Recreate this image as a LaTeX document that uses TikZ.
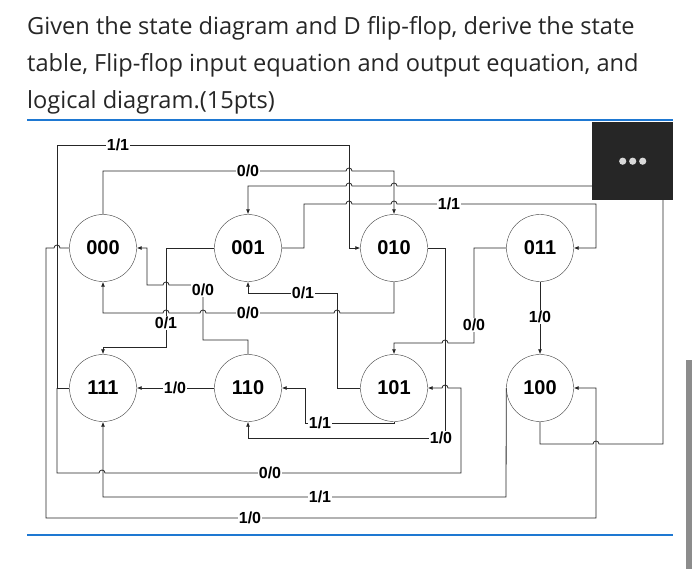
\documentclass[tikz,border=0pt]{standalone}
\usepackage{fontspec}
\setmainfont{Liberation Sans}
\newfontfamily\hdfont{Open Sans}
\usetikzlibrary{arrows.meta}
\definecolor{rule}{RGB}{30,120,210}
\tikzset{
  state/.style={draw=black!75,circle,minimum size=67pt,inner sep=0pt,font=\fontsize{20}{20}\selectfont\bfseries},
  lbl/.style={fill=white,inner sep=1pt,font=\fontsize{16}{16}\selectfont\bfseries},
  wire/.style={line width=0.8pt,black!85},
  arr/.style={wire,-{Latex[length=5pt,width=4pt]}},
  hdr/.style={anchor=west,inner sep=0pt,font=\hdfont\fontsize{23.6}{23.6}\selectfont,text=black!85}
}
\begin{document}
\begin{tikzpicture}[x=1pt,y=-1pt]
\useasboundingbox (0,0) rectangle (700,569);
% header
\node[hdr] (h1) at (27,28) {Given the state diagram and D flip-flop, derive the state};
\node[hdr] (h2) at (27,65) {table, Flip-flop input equation and output equation, and};
\node[hdr] (h3) at (27,102) {logical diagram.(15pts)};
\draw[line width=1.2pt,rule] (27,120) -- (673,120);
\draw[line width=1.2pt,rule] (27,535) -- (673,535);

% states
\node[state] (s000) at (103,248) {000};
\node[state] (s001) at (248,248) {001};
\node[state] (s010) at (394,248) {010};
\node[state] (s011) at (540,248) {011};
\node[state] (s111) at (103,388) {111};
\node[state] (s110) at (248,388) {110};
\node[state] (s101) at (394,388) {101};
\node[state] (s100) at (540,388) {100};

% 111 -> 010 and 111 -> 101
\draw[wire] (s111.west) -- (57,388);
\draw[arr] (57,388) -- (57,145) -- (349,145) -- (349,248) -- (s010.west);
\draw[arr] (57,388) -- (57,473) -- (99,473) arc[start angle=180,end angle=0,radius=3pt]
  -- (461,473) -- (461,388) -- (448,388) arc[start angle=0,end angle=180,radius=3pt] -- (s101.east);
% 000 -> 100
\draw[arr] (s000.west) -- (60,248) arc[start angle=0,end angle=180,radius=3pt] -- (46,248)
  -- (46,518) -- (596,518) -- (596,388) -- (s100.east);
% 000 -> 010
\draw[arr] (s000.north) -- (103,171) -- (346,171) arc[start angle=180,end angle=0,radius=3pt]
  -- (394,171) -- (s010.north);
% 100 -> 001
\draw[arr] (s100.south) -- (540,444) -- (593,444) arc[start angle=180,end angle=0,radius=3pt]
  -- (663,444) -- (663,186) -- (397,186) arc[start angle=0,end angle=180,radius=3pt]
  -- (352,186) arc[start angle=0,end angle=180,radius=3pt] -- (248,186) -- (s001.north);
% 001 -> 011
\draw[arr] (s001.east) -- (304,248) -- (304,204) -- (346,204) arc[start angle=180,end angle=0,radius=3pt]
  -- (391,204) arc[start angle=180,end angle=0,radius=3pt] -- (596,204) -- (596,248) -- (s011.east);
% 001 -> 111
\draw[arr] (s001.west) -- (166,248) -- (166,347) -- (103,347) -- (s111.north);
% 110 -> 000
\draw[arr] (s110.north) -- (248,340) -- (203,340) -- (203,285) -- (169,285)
  arc[start angle=0,end angle=180,radius=3pt] -- (147,285) -- (147,248) -- (s000.east);
% 010 -> 000
\draw[arr] (s010.south) -- (394,313) -- (340,313) arc[start angle=0,end angle=180,radius=3pt]
  -- (206,313) arc[start angle=0,end angle=180,radius=3pt]
  -- (169,313) arc[start angle=0,end angle=180,radius=3pt] -- (103,313) -- (s000.south);
% 101 -> 001
\draw[arr] (s101.west) -- (337,388) -- (337,293) -- (248,293) -- (s001.south);
% 010 -> 110
\draw[arr] (s010.east) -- (445,248) -- (445,438) -- (248,438) -- (s110.south);
% 101 -> 110
\draw[arr] (s101.south) -- (394,423) -- (305,423) -- (305,388) -- (s110.east);
% 011 -> 101
\draw[arr] (s011.west) -- (474,248) -- (474,343) -- (448,343) arc[start angle=0,end angle=180,radius=3pt]
  -- (394,343) -- (s101.north);
% 011 -> 100
\draw[arr] (s011.south) -- (s100.north);
% 100 -> 111
\draw[arr] (s100.west) -- (506,497) -- (103,497) -- (s111.south);
% 110 -> 111
\draw[arr] (s110.west) -- (s111.east);

% labels
\node[lbl] (l1) at (118,145) {1/1};
\node[lbl] (l2) at (248,171) {0/0};
\node[lbl] (l3) at (449,204) {1/1};
\node[lbl] (l4) at (203,290) {0/0};
\node[lbl] (l5) at (303,293) {0/1};
\node[lbl] (l6) at (248,313) {0/0};
\node[lbl] (l7) at (166,323) {0/1};
\node[lbl] (l8) at (474,325) {0/0};
\node[lbl] (l9) at (540,317) {1/0};
\node[lbl] (l10) at (175,388) {1/0};
\node[lbl] (l11) at (320,423) {1/1};
\node[lbl] (l12) at (441,438) {1/0};
\node[lbl] (l13) at (270,473) {0/0};
\node[lbl] (l14) at (320,497) {1/1};
\node[lbl] (l15) at (250,518) {1/0};

% overlay box and scrollbar
\node[fill=black!85,minimum width=81pt,minimum height=78pt,anchor=north west,inner sep=0pt] (menu) at (592,122) {};
\foreach \dx in {-10,0,10}
  \fill[black!15] ([xshift=\dx pt]menu.center) circle (3.6pt);
\fill[black!45] (686,360) rectangle (692,569);
\end{tikzpicture}
\end{document}
